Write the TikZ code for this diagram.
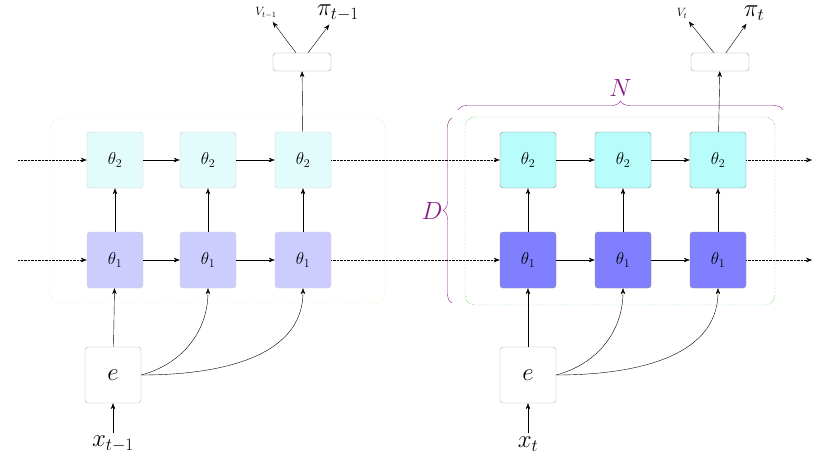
\documentclass[tikz,border=0pt]{standalone}
\usetikzlibrary{arrows.meta,decorations.pathreplacing}
\definecolor{lcy}{HTML}{E2FBFB}
\definecolor{lbl}{HTML}{CCCCFF}
\definecolor{rcy}{HTML}{B8FCFC}
\definecolor{rbl}{HTML}{7F7FFF}
\definecolor{pur}{HTML}{8A1C8A}
\definecolor{ylw}{HTML}{D8D890}
\begin{document}
\begin{tikzpicture}[x=1pt,y=-1pt,
 box/.style={draw=black!45,rounded corners=3pt,minimum width=56pt,minimum height=56pt,inner sep=0pt,font=\fontsize{17}{19}\selectfont},
 tl/.style={box,fill=lcy,draw=black!20},
 bl/.style={box,fill=lbl,draw=black!20},
 tr/.style={box,fill=rcy},
 br/.style={box,fill=rbl},
 eb/.style={box,fill=white,draw=black!30,font=\fontsize{28}{30}\selectfont},
 big/.style={font=\fontsize{26}{28}\selectfont},
 ob/.style={draw=black!40,rounded corners=3pt,minimum width=58pt,minimum height=18pt,inner sep=0pt},
 ar/.style={-{Stealth[length=6pt]},thin},
 dar/.style={ar,densely dotted},
 br2/.style={draw=pur,decorate,decoration={brace,amplitude=9pt}}]
\useasboundingbox (0,0) rectangle (815,461);
\draw[densely dotted,draw=ylw,rounded corners=10pt] (50,118) rectangle (385,303);
\draw[densely dotted,draw=green!70!black,rounded corners=10pt] (465,117) rectangle (775,305);
\foreach \i/\x in {1/115,2/208,3/303}{
 \node[tl] (la\i) at (\x,160) {$\theta_2$};
 \node[bl] (lb\i) at (\x,260) {$\theta_1$};}
\foreach \i/\x in {1/528,2/623,3/718}{
 \node[tr] (ra\i) at (\x,160) {$\theta_2$};
 \node[br] (rb\i) at (\x,260) {$\theta_1$};}
\node[eb] (le) at (113,375) {$e$};
\node[eb] (re) at (528,375) {$e$};
\node[big] (lx) at (113,444) {$x_{t-1}$};
\node[big] (rx) at (528,444) {$x_t$};
\node[ob] (lo) at (302,62) {};
\node[ob] (ro) at (720,62) {};
\node[font=\large] (lv) at (266,13) {$V_{t-1}$};
\node[big] (lp) at (338,13) {$\pi_{t-1}$};
\node[font=\large] (rv) at (682,13) {$V_t$};
\node[big] (rp) at (754,13) {$\pi_t$};
\coordinate (s1) at (18,160); \coordinate (s2) at (18,260);
\coordinate (e1) at (812,160); \coordinate (e2) at (812,260);
\foreach \p in {l,r}{
 \foreach \i in {1,2,3}{\draw[ar] (\p b\i) -- (\p a\i);}
 \draw[ar] (\p a1) -- (\p a2); \draw[ar] (\p a2) -- (\p a3);
 \draw[ar] (\p b1) -- (\p b2); \draw[ar] (\p b2) -- (\p b3);
 \draw[ar] (\p a3) -- (\p o);
 \draw[ar] (\p o.north)++(-6,0) -- (\p v);
 \draw[ar] (\p o.north)++(6,0) -- (\p p);
 \draw[ar] (\p x) -- (\p e);
 \draw[ar] (\p e) -- (\p b1);
 \draw[ar] (\p e.east) to[out=15,in=-90] (\p b2.south);
 \draw[ar] (\p e.east) to[out=0,in=-90] (\p b3.south);
}
\draw[dar] (s1) -- (la1); \draw[dar] (s2) -- (lb1);
\draw[dar] (la3) -- (ra1); \draw[dar] (lb3) -- (rb1);
\draw[dar] (ra3) -- (e1); \draw[dar] (rb3) -- (e2);
\draw[br2] (458,110) -- (783,110) node[midway,above=10pt,text=pur,big] (N) {$N$};
\draw[br2] (452,303) -- (452,118) node[midway,left=6pt,text=pur,big] (D) {$D$};
\end{tikzpicture}
\end{document}
